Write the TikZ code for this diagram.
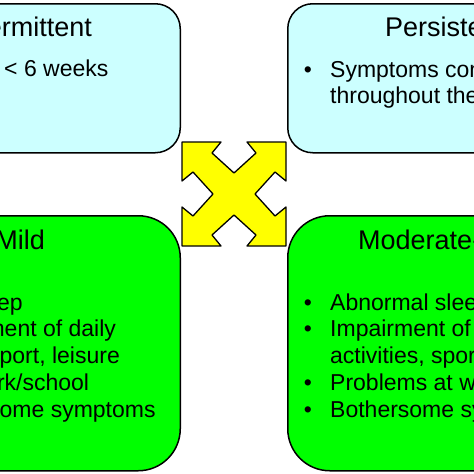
\documentclass[tikz,border=0pt]{standalone}
\usepackage{fontspec}
\setmainfont{Liberation Sans}
\definecolor{palecyan}{RGB}{204,255,255}
\definecolor{brightgreen}{RGB}{0,255,0}
\definecolor{arrowyellow}{RGB}{255,255,0}
\begin{document}
\begin{tikzpicture}[x=1pt,y=-1pt,line cap=round,line join=round,
	box/.style={draw=black,line width=1.5pt,rounded corners=#1,inner sep=0pt},
	title/.style={inner sep=0pt,font=\fontsize{27}{32}\selectfont},
	item/.style={anchor=base west,inner sep=0pt,font=\fontsize{23}{27}\selectfont},
	dot/.style={anchor=base east,inner sep=0pt,font=\fontsize{23}{27}\selectfont}]
		\useasboundingbox (0,0) rectangle (474,474);
		\clip (0,0) rectangle (474,474);
		% the four boxes
		\node[box=25pt,fill=palecyan,minimum width=337pt,minimum height=149pt,anchor=north east] (inter) at (181,3) {};
		\node[box=25pt,fill=palecyan,minimum width=337pt,minimum height=149pt,anchor=north west] (persist) at (287,3) {};
		\node[box=42pt,fill=brightgreen,minimum width=337pt,minimum height=255pt,anchor=north east] (mild) at (181,215) {};
		\node[box=42pt,fill=brightgreen,minimum width=337pt,minimum height=255pt,anchor=north west] (modsev) at (287,215) {};
		% titles
		\node[title,anchor=base east] (intertitle) at (92,36) {Intermittent};
		\node[title,anchor=base west] (persisttitle) at (385,36) {Persistent};
		\node[title,anchor=base east] (mildtitle) at (45,249) {Mild};
		\node[title,anchor=base west] (modsevtitle) at (358,249) {Moderate-severe};
		% top texts
		\node[dot] (interdot) at (-131,76) {•};
		\node[item] (intertext) at (-111,76) {Symptoms < 6 weeks};
		\node[dot] (persistdot) at (312,77) {•};
		\node[item] (persisttext0) at (330,77) {Symptoms continue};
		\node[item] (persisttext1) at (330,103) {throughout the year};
		% bottom texts
		\foreach \txt [count=\i from 0] in {Normal sleep,No impairment of daily,{activities, sport, leisure},Normal work/school,No bothersome symptoms}
			\node[item] (mildtext\i) at (-113,{310+26.75*\i}) {\txt};
		\foreach \txt [count=\i from 0] in {Abnormal sleep,Impairment of daily,{activities, sport, leisure},Problems at work/school,Bothersome symptoms}
			\node[item] (modsevtext\i) at (330,{310+26.75*\i}) {\txt};
		\foreach \i in {0,1,3,4} {
			\node[dot] (milddot\i) at (-131,{310+26.75*\i}) {•};
			\node[dot] (modsevdot\i) at (312,{310+26.75*\i}) {•};
		}
		% four-way arrow
		\filldraw[fill=arrowyellow,draw=black,line width=1.3pt,shift={(234,194)}]
			(-52,-52) -- (-13,-52) -- (-22,-41) -- (0,-21) -- (22,-41) -- (13,-52) -- (52,-52)
			-- (52,-13) -- (41,-22) -- (21,0) -- (41,22) -- (52,13) -- (52,52)
			-- (13,52) -- (22,41) -- (0,21) -- (-22,41) -- (-13,52) -- (-52,52)
			-- (-52,13) -- (-41,22) -- (-21,0) -- (-41,-22) -- (-52,-13) -- cycle;
	\end{tikzpicture}
\end{document}
